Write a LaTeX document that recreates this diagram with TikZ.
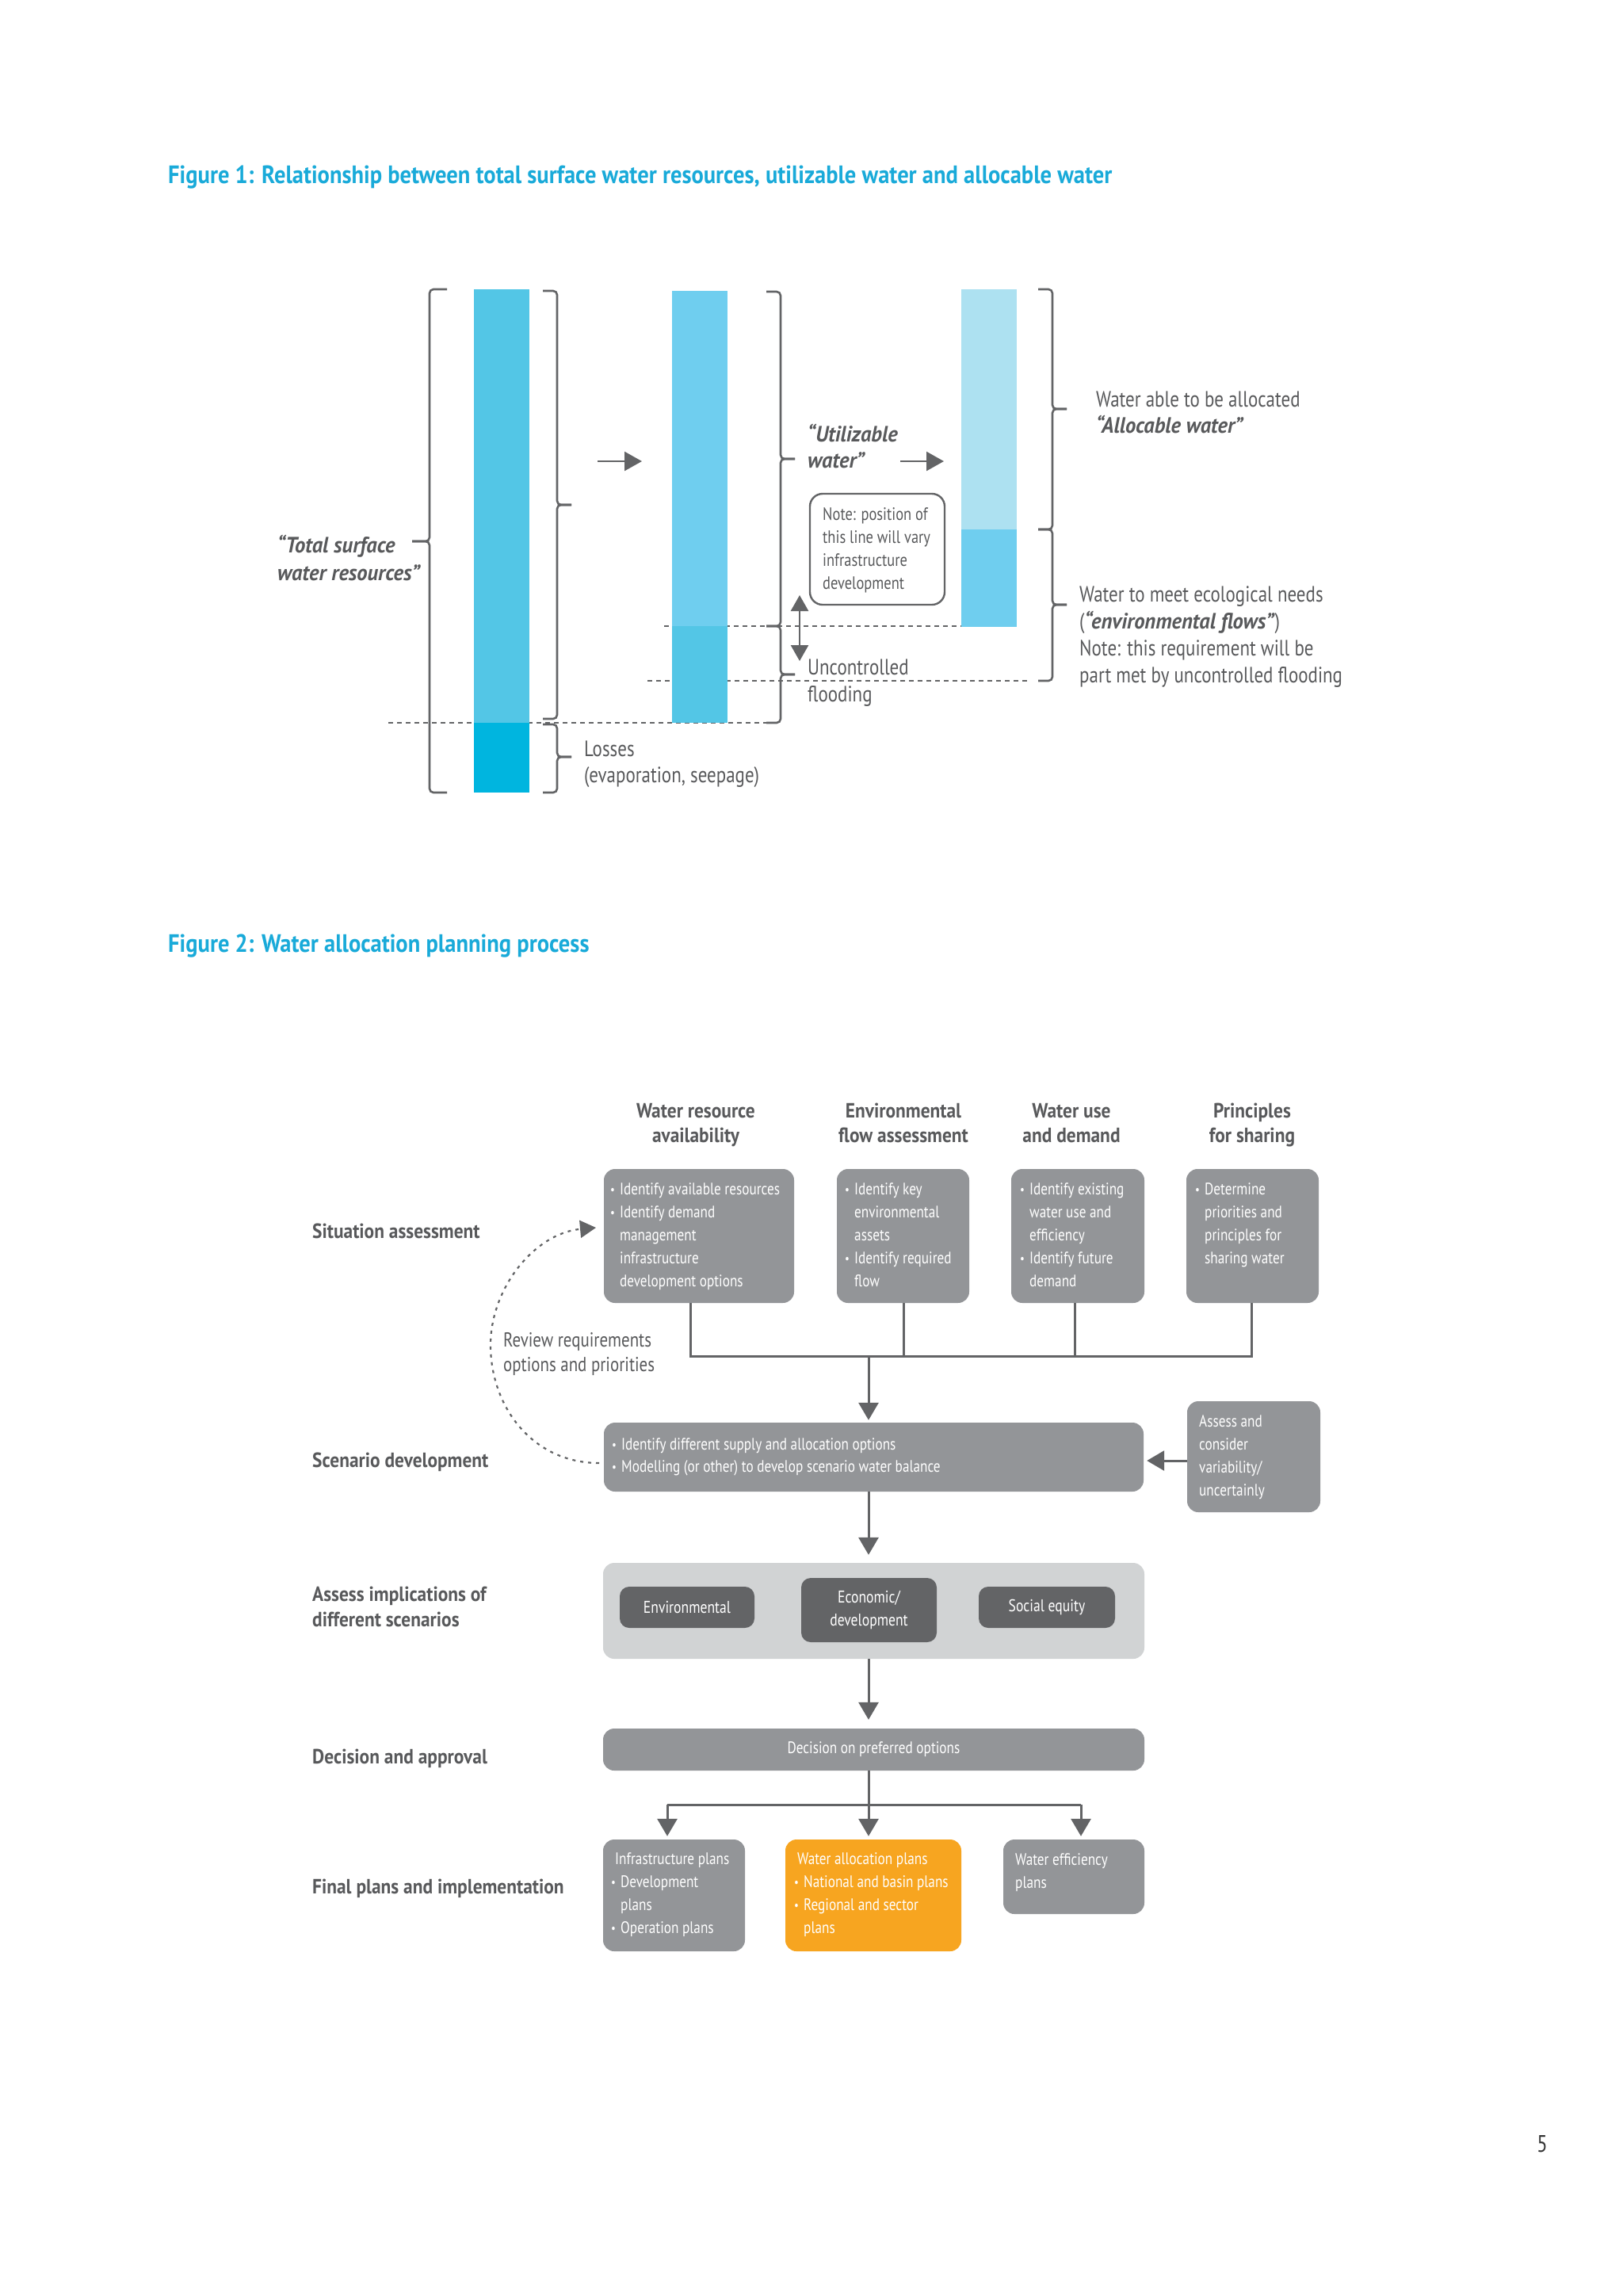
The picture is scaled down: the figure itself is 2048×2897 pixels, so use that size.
\documentclass[tikz,border=0pt]{standalone}
\usepackage{fontspec}
\setmainfont{PT Sans}[FakeStretch=0.82, BoldFeatures={FakeStretch=0.9}, BoldItalicFeatures={FakeStretch=0.95}]
\usetikzlibrary{arrows.meta}
\definecolor{ttl}{HTML}{19AAD9}
\definecolor{tg}{HTML}{58595B}
\definecolor{lg}{HTML}{636466}
\definecolor{bx}{HTML}{939598}
\definecolor{dk}{HTML}{636466}
\definecolor{lt}{HTML}{D1D3D4}
\definecolor{org}{HTML}{F7A520}
\definecolor{barA}{HTML}{53C6E6}
\definecolor{barL}{HTML}{00B5DF}
\definecolor{barB}{HTML}{6FCEEF}
\definecolor{barC}{HTML}{ADE1F1}
\newcommand\st{\rule{0pt}{0.8em}}
\newcommand\bul{\makebox[12pt][l]{\raisebox{1pt}{\scalebox{0.75}{\textbullet}}}}
\newcommand\ind{\hspace*{12pt}}
\newcommand\bi[1]{\textbf{\textit{#1}}}
\newcommand\rbrk[4]{%
  \draw[brk] (#1-18,#2) -- (#1,#2) -- (#1,#3) -- (#1+18,#3);
  \draw[brk] (#1+18,#3) -- (#1,#3) -- (#1,#4) -- (#1-18,#4);}
\newcommand\lbrk[4]{%
  \draw[brk] (#1+22,#2) -- (#1,#2) -- (#1,#3) -- (#1-22,#3);
  \draw[brk] (#1-22,#3) -- (#1,#3) -- (#1,#4) -- (#1+22,#4);}
\begin{document}
\begin{tikzpicture}[x=1pt,y=-1pt,
  ttlst/.style={anchor=base west, inner sep=0pt, text=ttl, font=\fontsize{31.7}{36}\selectfont\bfseries},
  brk/.style={draw=lg, line width=2.6pt, rounded corners=5pt},
  dsh/.style={draw=lg, line width=2pt, dash pattern=on 6pt off 5pt},
  arr1/.style={draw=lg, line width=2.6pt, -{Triangle[length=22pt,width=24pt]}},
  arr2/.style={draw=lg, line width=2.6pt, {Triangle[length=20pt,width=22pt]}-{Triangle[length=20pt,width=22pt]}},
  lab/.style={anchor=north west, inner sep=0pt, align=left, text=tg, font=\fontsize{28}{34}\selectfont},
  notetxt/.style={anchor=north west, inner sep=0pt, align=left, text=tg, font=\fontsize{22.5}{29}\selectfont},
  hdr/.style={anchor=north, inner sep=0pt, align=center, text=tg, font=\fontsize{26}{31}\selectfont\bfseries},
  rowl/.style={anchor=base west, inner sep=0pt, align=left, text=tg, font=\fontsize{26}{32}\selectfont\bfseries},
  gbox/.style={fill=bx, rounded corners=14pt, inner sep=0pt},
  btxt/.style={anchor=north west, inner sep=0pt, align=left, text=white, font=\fontsize{21}{29}\selectfont},
  ctxt/.style={inner sep=0pt, align=center, text=white, font=\fontsize{21.5}{29}\selectfont},
  ln/.style={draw=lg, line width=3pt},
  arr/.style={draw=lg, line width=3pt, -{Triangle[length=22pt,width=25pt]}},
  dotl/.style={draw=lg, line width=2.2pt, dash pattern=on 4pt off 6pt, -{Triangle[length=20pt,width=22pt]}}
]
\useasboundingbox[fill=white] (0,0) rectangle (2048,2897);

% ---------------- Figure 1 ----------------
\node[ttlst] (t1) at (212,231) {Figure 1: Relationship between total surface water resources, utilizable water and allocable water};

% dashed lines
\coordinate (d1a) at (490,912); \coordinate (d1b) at (983,912);
\coordinate (d2a) at (838,790); \coordinate (d2b) at (1213,790);
\coordinate (d3a) at (817,859); \coordinate (d3b) at (1300,859);
\draw[dsh] (d1a) -- (d1b);
\draw[dsh] (d2a) -- (d2b);
\draw[dsh] (d3a) -- (d3b);

% bars
\fill[barA] (598,365) rectangle (668,912);
\fill[barL] (598,912) rectangle (668,1000);
\fill[barB] (848,367) rectangle (918,790);
\fill[barA] (848,790) rectangle (918,912);
\fill[barC] (1213,365) rectangle (1283,668);
\fill[barB] (1213,668) rectangle (1283,791);

% braces
\lbrk{542}{365}{683}{1000}
\rbrk{703}{367}{637}{907}
\rbrk{703}{914}{955}{1000}
\rbrk{985}{368}{579}{790}
\rbrk{985}{790}{851}{912}
\rbrk{1328}{365}{516}{668}
\rbrk{1328}{668}{763}{859}

% arrows
\coordinate (a1s) at (754,582); \coordinate (a1e) at (810,582);
\coordinate (a2s) at (1136,582); \coordinate (a2e) at (1191,582);
\coordinate (a3s) at (1009,751); \coordinate (a3e) at (1009,834);
\draw[arr1] (a1s) -- (a1e);
\draw[arr1] (a2s) -- (a2e);
\draw[arr2] (a3s) -- (a3e);

% note box
\node[draw=lg, line width=2.4pt, rounded corners=16pt, minimum width=170pt, minimum height=140pt, inner sep=0pt] (nb) at (1107,693) {};
\node[notetxt] (nt) at (1038,638) {\st Note: position of\\this line will vary\\infrastructure\\development};

% labels
\node[lab, font=\fontsize{28}{35}\selectfont] (ltot) at (350,674.4) {\st\bi{“Total surface}\\\bi{water resources”}};
\node[lab, font=\fontsize{28}{33}\selectfont] (lut) at (1019,534.4) {\st\bi{“Utilizable}\\\bi{water”}};
\node[lab] (lunc) at (1019,828.4) {\st Uncontrolled\\flooding};
\node[lab, font=\fontsize{28}{33}\selectfont] (lloss) at (737,931.4) {\st Losses\\(evaporation, seepage)};
\node[lab, font=\fontsize{28}{33}\selectfont] (lall) at (1383,490.4) {\st Water able to be allocated\\\bi{“Allocable water”}};
\node[lab] (leco) at (1362,736.4) {\st Water to meet ecological needs\\(\bi{“environmental flows”})\\Note: this requirement will be\\part met by uncontrolled flooding};

% ---------------- Figure 2 ----------------
\node[ttlst] (t2) at (212,1201) {Figure 2: Water allocation planning process};

\node[hdr] (h1t) at (878,1389.3) {\st Water resource\\availability};
\node[hdr] (h2t) at (1140,1389.3) {\st Environmental\\flow assessment};
\node[hdr] (h3t) at (1352,1389.3) {\st Water use\\and demand};
\node[hdr] (h4t) at (1580,1389.3) {\st Principles\\for sharing};

\node[rowl] (r1) at (394,1562) {Situation assessment};
\node[rowl] (r2) at (394,1851) {Scenario development};
\node[rowl, anchor=north west] (r3) at (394,1999.3) {\st Assess implications of\\different scenarios};
\node[rowl] (r4) at (394,2225) {Decision and approval};
\node[rowl] (r5) at (394,2389) {Final plans and implementation};

% row 1 boxes
\node[gbox, minimum width=240pt, minimum height=169pt] (b1) at (882,1559.5) {};
\node[gbox, minimum width=167pt, minimum height=169pt] (b2) at (1139.5,1559.5) {};
\node[gbox, minimum width=168pt, minimum height=169pt] (b3) at (1360,1559.5) {};
\node[gbox, minimum width=167pt, minimum height=169pt] (b4) at (1580.5,1559.5) {};
\node[btxt] (b1t) at (770,1490.5) {\st\bul Identify available resources\\\bul Identify demand\\\ind management\\\ind infrastructure\\\ind development options};
\node[btxt] (b2t) at (1066,1490.5) {\st\bul Identify key\\\ind environmental\\\ind assets\\\bul Identify required\\\ind flow};
\node[btxt] (b3t) at (1287,1490.5) {\st\bul Identify existing\\\ind water use and\\\ind efficiency\\\bul Identify future\\\ind demand};
\node[btxt] (b4t) at (1508,1490.5) {\st\bul Determine\\\ind priorities and\\\ind principles for\\\ind sharing water};

% scenario
\node[gbox, minimum width=681pt, minimum height=87pt] (s) at (1102.5,1838.5) {};
\node[btxt, font=\fontsize{21}{28}\selectfont] (st) at (772,1812.5) {\st\bul Identify different supply and allocation options\\\bul Modelling (or other) to develop scenario water balance};
\node[gbox, minimum width=168pt, minimum height=140pt] (v) at (1582,1838) {};
\node[btxt] (vt) at (1513,1783.5) {\st Assess and\\consider\\variability/\\uncertainly};

% implications
\node[fill=lt, rounded corners=14pt, inner sep=0pt, minimum width=683pt, minimum height=121pt] (L) at (1102.5,2032.5) {};
\node[fill=dk, rounded corners=12pt, inner sep=0pt, minimum width=170pt, minimum height=52pt, ctxt] (env) at (867,2028) {Environmental};
\node[fill=dk, rounded corners=12pt, inner sep=0pt, minimum width=171pt, minimum height=81pt, ctxt] (eco) at (1096.5,2031.5) {Economic/\\development};
\node[fill=dk, rounded corners=12pt, inner sep=0pt, minimum width=172pt, minimum height=52pt, ctxt] (soc) at (1321,2028) {Social equity};

% decision
\node[gbox, minimum width=683pt, minimum height=53pt, ctxt, font=\fontsize{21}{29}\selectfont] (D) at (1102.5,2207.5) {Decision on preferred options};

% final
\node[gbox, minimum width=179pt, minimum height=141pt] (f1) at (850.5,2391.5) {};
\node[fill=org, rounded corners=14pt, inner sep=0pt, minimum width=222pt, minimum height=141pt] (f2) at (1102,2391.5) {};
\node[gbox, minimum width=178pt, minimum height=94pt] (f3) at (1355,2368) {};
\node[btxt] (f1t) at (771,2335.5) {\st\hspace*{5pt}Infrastructure plans\\\bul Development\\\ind plans\\\bul Operation plans};
\node[btxt] (f2t) at (1002,2335.5) {\st\hspace*{4pt}Water allocation plans\\\bul National and basin plans\\\bul Regional and sector\\\ind plans};
\node[btxt] (f3t) at (1281,2336.5) {\st Water efficiency\\plans};

% connectors
\coordinate (h1) at (871,1711);
\coordinate (h2) at (1140,1711);
\coordinate (h3) at (1356,1711);
\coordinate (h4) at (1579,1711);
\coordinate (hm) at (1096,1711);
\draw[ln] (b1.south -| h1) -- (h1) -- (h4) -- (b4.south -| h4);
\draw[ln] (b2.south -| h2) -- (h2);
\draw[ln] (b3.south -| h3) -- (h3);
\draw[arr, shorten >=3pt] (hm) -- (s.north -| hm);
\draw[arr, shorten >=4pt] (v.west |- 0,1843) -- (s.east |- 0,1843);
\draw[arr, shorten >=10pt] (s.south -| hm) -- (L.north -| hm);
\draw[arr, shorten >=11pt] (L.south -| hm) -- (D.north -| hm);
\coordinate (k) at (1096,2277);
\coordinate (kl) at (842,2277);
\coordinate (kr) at (1364,2277);
\draw[ln] (D.south -| k) -- (k);
\draw[ln] (kl) -- (kr);
\draw[arr, shorten >=4pt] (kl) -- (f1.north -| kl);
\draw[arr, shorten >=4pt] (k) -- (f2.north -| k);
\draw[arr, shorten >=4pt] (kr) -- (f3.north -| kr);

% dotted feedback
\coordinate (cS) at (756,1846);
\coordinate (cE) at (752,1549);
\draw[dotl] (cS) .. controls (672,1846) and (619,1775) .. (619,1697) .. controls (619,1625) and (675,1556) .. (cE);
\node[lab, font=\fontsize{25.5}{31}\selectfont] (rv) at (635,1678.5) {\st Review requirements\\options and priorities};

% page number
\node[anchor=base, inner sep=0pt, font=\fontsize{30}{36}\selectfont, text=black!80] (pg) at (1946,2715) {5};
\end{tikzpicture}
\end{document}
